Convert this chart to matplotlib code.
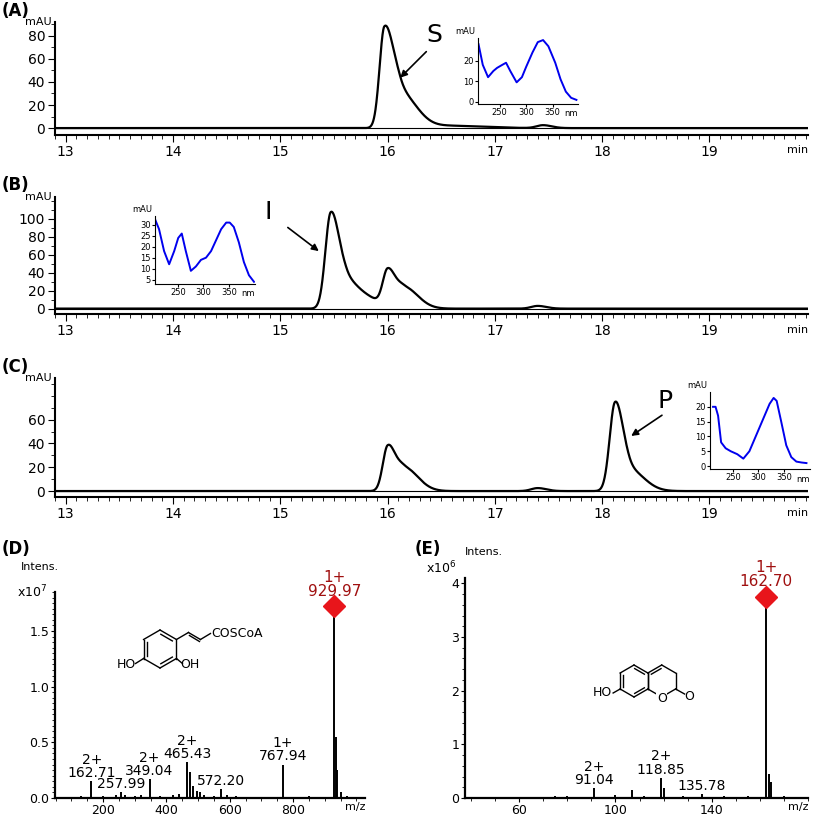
import numpy as np
import matplotlib.pyplot as plt
from matplotlib.ticker import MultipleLocator

# chromatogram peaks: (retention time, height, left width, right width)
peaks_a = [(15.97, 83, 0.045, 0.08), (16.12, 30, 0.08, 0.15), (16.6, 2, 0.2, 0.3), (17.45, 2.5, 0.06, 0.08)]
peaks_b = [(15.47, 102, 0.05, 0.075), (15.62, 30, 0.08, 0.12), (15.85, 8, 0.1, 0.1),
           (16.0, 38, 0.045, 0.065), (16.15, 24, 0.08, 0.13), (17.4, 3, 0.06, 0.08)]
peaks_c = [(16.0, 35, 0.045, 0.065), (16.15, 20, 0.08, 0.13), (17.4, 2.5, 0.06, 0.08),
           (18.12, 70, 0.05, 0.07), (18.25, 18, 0.08, 0.14)]

# UV spectra (nm, mAU)
uv_a_nm = [210, 218, 228, 238, 245, 255, 262, 270, 282, 292, 300, 312, 322, 332, 342, 355, 365, 375, 385, 395]
uv_a = [28, 18, 12, 15, 16.5, 18, 19, 15, 9.5, 12, 17, 24, 29, 30, 27, 19, 11, 5, 2, 1]
uv_b_nm = [205, 212, 222, 232, 242, 250, 257, 265, 275, 285, 295, 305, 315, 325, 335, 345, 352, 360, 370, 380, 390, 400]
uv_b = [32, 28, 18, 12, 18, 24, 26, 18, 9, 11, 14, 15, 18, 23, 28, 31, 31, 29, 22, 13, 7, 4]
uv_c_nm = [210, 215, 220, 226, 235, 245, 258, 270, 282, 292, 302, 312, 322, 330, 336, 345, 355, 365, 375, 385, 395]
uv_c = [20, 20, 17, 8, 6, 5, 4, 2.5, 5, 9, 13, 17, 21, 23, 22, 15, 7, 3, 1.5, 1.2, 1]

# mass spectra (m/z, intensity)
ms_d_mz = [100, 130, 162.71, 200, 240, 257.99, 270, 300, 320, 349.04, 380, 420, 440, 465.43, 475, 485, 495,
           505, 520, 550, 572.20, 590, 620, 680, 720, 767.94, 800, 850, 890, 929.97, 934, 940, 950, 970]
ms_d = [0.01, 0.015, 0.15, 0.02, 0.03, 0.05, 0.03, 0.02, 0.03, 0.17, 0.02, 0.03, 0.04, 0.32, 0.23, 0.11, 0.06,
        0.05, 0.03, 0.02, 0.08, 0.03, 0.02, 0.01, 0.01, 0.30, 0.01, 0.015, 0.01, 1.68, 0.55, 0.25, 0.05, 0.02]
ms_e_mz = [55, 65, 75, 80, 91.04, 100, 107, 112, 118.85, 120, 128, 135.78, 145, 155, 162.70, 163.7, 164.5, 170]
ms_e = [0.02, 0.02, 0.03, 0.04, 0.18, 0.05, 0.15, 0.04, 0.38, 0.18, 0.04, 0.07, 0.03, 0.03, 3.65, 0.45, 0.3, 0.03]

fig = plt.figure(figsize=(8.13, 8.18), dpi=100)
W, H = 813, 818


def box(l, t, r, b):
    return [l / W, 1 - b / H, (r - l) / W, (b - t) / H]


def chrom(peaks):
    t = np.linspace(12.85, 19.95, 4000)
    y = np.zeros_like(t)
    for c, h, wl, wr in peaks:
        w = np.where(t < c, wl, wr)
        y += h * np.exp(-0.5 * ((t - c) / w) ** 2)
    return t, y


def chrom_axes(rect, peaks, ylim, yticks):
    ax = fig.add_axes(rect)
    t, y = chrom(peaks)
    ax.plot(t, y, color="black", lw=1.6)
    ax.axhline(0, color="black", lw=0.8)
    ax.set_xlim(12.9, 19.92)
    ax.set_ylim(*ylim)
    ax.set_yticks(yticks)
    ax.yaxis.set_minor_locator(MultipleLocator(10))
    ax.xaxis.set_major_locator(MultipleLocator(1))
    ax.xaxis.set_minor_locator(MultipleLocator(0.1))
    ax.tick_params(which="both", direction="out", labelsize=10, pad=2)
    ax.tick_params(which="major", length=5)
    ax.tick_params(which="minor", length=3)
    for s in ["top", "right"]:
        ax.spines[s].set_visible(False)
    ax.spines["left"].set_linewidth(1.5)
    ax.spines["bottom"].set_linewidth(1.5)
    ax.text(-0.005, 1.0, "mAU", transform=ax.transAxes, ha="right", va="center", fontsize=8)
    ax.text(1.0, -0.09, "min", transform=ax.transAxes, ha="right", va="top", fontsize=8)
    return ax


def uv_inset(rect, nm, vals, xlim, ylim, yticks):
    ax = fig.add_axes(rect)
    ax.plot(nm, vals, color="#0000ee", lw=1.4)
    ax.set_xlim(*xlim)
    ax.set_ylim(*ylim)
    ax.set_xticks([250, 300, 350])
    ax.set_yticks(yticks)
    ax.tick_params(labelsize=6, length=2, pad=1)
    for s in ["top", "right"]:
        ax.spines[s].set_visible(False)
    ax.text(-0.03, 1.03, "mAU", transform=ax.transAxes, ha="right", va="bottom", fontsize=6)
    ax.text(1.0, -0.08, "nm", transform=ax.transAxes, ha="right", va="top", fontsize=6)
    ax.patch.set_alpha(0)


# (A)
ax = chrom_axes(box(55, 22, 808, 135), peaks_a, (-6, 92), [0, 20, 40, 60, 80])
ax.annotate("", xy=(16.1, 42), xytext=(16.38, 68),
            arrowprops=dict(arrowstyle="-|>", color="black", lw=1.2))
ax.text(16.36, 70, "S", fontsize=18, ha="left", va="bottom")
uv_inset(box(478, 38, 578, 104), uv_a_nm, uv_a, (209, 398), (-1, 31), [0, 10, 20])
fig.text(2 / W, 1 - 2 / H, "(A)", fontsize=12, fontweight="bold", va="top")

# (B)
ax = chrom_axes(box(55, 197, 808, 314), peaks_b, (-6, 124), [0, 20, 40, 60, 80, 100])
ax.annotate("", xy=(15.38, 62), xytext=(15.05, 92),
            arrowprops=dict(arrowstyle="-|>", color="black", lw=1.2))
ax.text(14.85, 94, "I", fontsize=18, ha="left", va="bottom")
uv_inset(box(155, 216, 255, 284), uv_b_nm, uv_b, (204, 402), (3, 34), [5, 10, 15, 20, 25, 30])
fig.text(2 / W, 1 - 176 / H, "(B)", fontsize=12, fontweight="bold", va="top")

# (C)
ax = chrom_axes(box(55, 378, 808, 497), peaks_c, (-5, 95), [0, 20, 40, 60])
ax.annotate("", xy=(18.25, 45), xytext=(18.58, 65),
            arrowprops=dict(arrowstyle="-|>", color="black", lw=1.2))
ax.text(18.52, 66, "P", fontsize=18, ha="left", va="bottom")
uv_inset(box(710, 392, 810, 469), uv_c_nm, uv_c, (204, 402), (-1, 25), [0, 5, 10, 15, 20])
fig.text(2 / W, 1 - 358 / H, "(C)", fontsize=12, fontweight="bold", va="top")


def ms_axes(rect, mz, vals, xlim, ylim, xticks, yticks, ylabels, exp, exp_y, intens_x, labels, base):
    ax = fig.add_axes(rect)
    ax.vlines(mz, 0, vals, color="black", lw=1.4)
    ax.set_xlim(*xlim)
    ax.set_ylim(*ylim)
    ax.set_xticks(xticks)
    ax.set_yticks(yticks)
    ax.set_yticklabels(ylabels)
    ax.tick_params(which="both", labelsize=9, direction="out", pad=1)
    ax.tick_params(which="major", length=3)
    ax.tick_params(which="minor", length=2)
    for s in ["top", "right"]:
        ax.spines[s].set_visible(False)
    ax.spines["left"].set_linewidth(1.6)
    ax.spines["bottom"].set_linewidth(1.6)
    ax.text(-0.025, exp_y, exp, transform=ax.transAxes, ha="right", va="center", fontsize=9)
    ax.text(intens_x, 1.12, "Intens.", transform=ax.transAxes, ha="left", va="center", fontsize=8)
    ax.text(1.0, -0.02, "m/z", transform=ax.transAxes, ha="right", va="top", fontsize=8)
    for x, y, txt in labels:
        ax.text(x, y, txt, ha="center", va="bottom", fontsize=10, linespacing=0.95)
    bx, by, btxt = base
    ax.plot([bx], [by], marker="D", color="#e8151b", ms=11, clip_on=False)
    ax.text(bx, by + ylim[1] * 0.035, btxt, ha="center", va="bottom", fontsize=11,
            color="#a01010", linespacing=0.95)
    return ax


# (D)
ax_d = ms_axes(box(55, 592, 365, 798), ms_d_mz, ms_d, (48, 1027), (0, 1.85),
               [200, 400, 600, 800], [0, 0.5, 1.0, 1.5], ["0.0", "0.5", "1.0", "1.5"], "x10$^7$", 1.0, -0.11,
               [(165, 0.16, "2+\n162.71"), (258, 0.06, "257.99"), (346, 0.18, "2+\n349.04"),
                (465, 0.33, "2+\n465.43"), (572, 0.09, "572.20"), (768, 0.31, "1+\n767.94")],
               (929.97, 1.72, "1+\n929.97"))
ax_d.yaxis.set_minor_locator(MultipleLocator(0.05))
ax_d.xaxis.set_minor_locator(MultipleLocator(50))
fig.text(2 / W, 1 - 540 / H, "(D)", fontsize=12, fontweight="bold", va="top")

# (E)
ax_e = ms_axes(box(465, 578, 808, 798), ms_e_mz, ms_e, (37.5, 180), (0, 4.1),
               [60, 100, 140], [0, 1, 2, 3, 4], ["0", "1", "2", "3", "4"], "x10$^6$", 1.045, 0.0,
               [(91, 0.2, "2+\n91.04"), (119, 0.4, "2+\n118.85"), (136, 0.09, "135.78")],
               (162.70, 3.75, "1+\n162.70"))
ax_e.yaxis.set_minor_locator(MultipleLocator(0.2))
ax_e.xaxis.set_minor_locator(MultipleLocator(10))
fig.text(415 / W, 1 - 540 / H, "(E)", fontsize=12, fontweight="bold", va="top")


# chemical structures drawn in pixel-space overlay
ov = fig.add_axes([0, 0, 1, 1])
ov.set_xlim(0, W)
ov.set_ylim(H, 0)
ov.axis("off")


def ring(cx, cy, r, double_sides):
    ang = np.deg2rad(np.arange(90, 450, 60))
    px = cx + r * np.cos(ang)
    py = cy - r * np.sin(ang)
    for i in range(6):
        j = (i + 1) % 6
        ov.plot([px[i], px[j]], [py[i], py[j]], color="black", lw=1)
        if i in double_sides:
            mx, my = (px[i] + px[j]) / 2, (py[i] + py[j]) / 2
            sx = px[i] + (cx - mx) * 0.2
            sy = py[i] + (cy - my) * 0.2
            ex = px[j] + (cx - mx) * 0.2
            ey = py[j] + (cy - my) * 0.2
            ov.plot([sx + (ex - sx) * 0.15, ex - (ex - sx) * 0.15],
                    [sy + (ey - sy) * 0.15, ey - (ey - sy) * 0.15], color="black", lw=1)
    return px, py


# D: 2,4-dihydroxycinnamoyl-CoA
px, py = ring(160, 649, 19, [1, 3, 5])
ov.plot([px[5], px[5] + 12], [py[5], py[5] - 7], color="black", lw=1)
ov.plot([px[5] + 12, px[5] + 24], [py[5] - 7, py[5]], color="black", lw=1)
ov.plot([px[5] + 13, px[5] + 23], [py[5] - 4, py[5] + 2], color="black", lw=1)
ov.plot([px[5] + 24, px[5] + 34], [py[5], py[5] - 6], color="black", lw=1)
ov.text(px[5] + 35, py[5] - 6, "COSCoA", fontsize=9, va="center", ha="left")
ov.plot([px[2], px[2] - 8], [py[2], py[2] + 5], color="black", lw=1)
ov.text(px[2] - 8, py[2] + 6, "HO", fontsize=9, ha="right", va="center")
ov.plot([px[4], px[4] + 6], [py[4], py[4] + 5], color="black", lw=1)
ov.text(px[4] + 4, py[4] + 6, "OH", fontsize=9, ha="left", va="center")

# E: 7-hydroxycoumarin
px, py = ring(634, 681, 16, [1, 3, 5])
qx, qy = ring(634 + 16 * np.sqrt(3), 681, 16, [0])
ov.text(px[2] - 8, py[2] + 4, "HO", fontsize=9, ha="right", va="center")
ov.plot([px[2], px[2] - 7], [py[2], py[2] + 4], color="black", lw=1)
ov.text(qx[3], qy[3] + 2, "O", fontsize=9, ha="center", va="center",
        bbox=dict(fc="white", ec="none", pad=0.5))
ov.plot([qx[4], qx[4] + 9], [qy[4], qy[4] + 5], color="black", lw=1)
ov.text(qx[4] + 14, qy[4] + 7, "O", fontsize=9, ha="center", va="center")

fig.savefig("out.png", dpi=100)
